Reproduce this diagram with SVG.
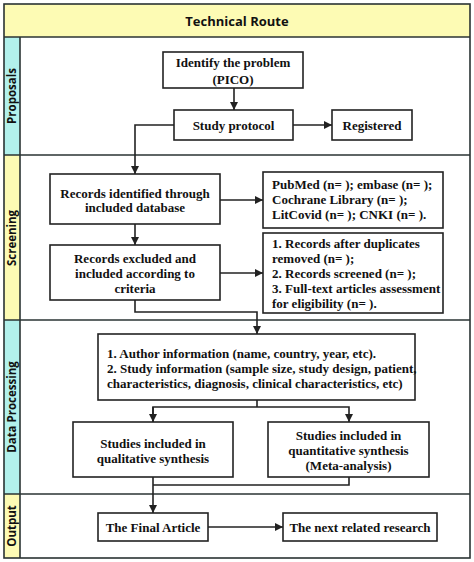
<svg xmlns="http://www.w3.org/2000/svg" width="474" height="562" viewBox="0 0 474 562">
<defs>
<marker id="ah" viewBox="0 0 10 10" refX="10" refY="5" markerWidth="9" markerHeight="8" markerUnits="userSpaceOnUse" orient="auto">
<path d="M0,0 L10,5 L0,10 z" fill="#222"/>
</marker>
</defs>
<style>
.lane{fill:none;stroke:#2a3333;stroke-width:1.6}
.yl{fill:#fdfbb4}
.cy{fill:#b2f1ec}
.box{fill:#fff;stroke:#222;stroke-width:1.6}
.t{font-family:"Liberation Serif",serif;font-weight:bold;font-size:13px;fill:#111}
.c{text-anchor:middle}
.lbl{font-family:"Open Sans","DejaVu Sans",sans-serif;font-weight:bold;font-size:11.5px;fill:#111;text-anchor:middle}
.ln{fill:none;stroke:#222;stroke-width:1.6}
</style>
<rect x="0" y="0" width="474" height="562" fill="#fff"/>
<g id="frame">
<rect class="yl" x="4" y="4" width="466" height="33"/>
<rect class="cy" x="4" y="37" width="16" height="118"/>
<rect class="yl" x="4" y="155" width="16" height="165"/>
<rect class="cy" x="4" y="320" width="16" height="174"/>
<rect class="yl" x="4" y="494" width="16" height="64"/>
<rect class="lane" x="4" y="4" width="466" height="554"/>
<line class="lane" x1="4" y1="37" x2="470" y2="37"/>
<line class="lane" x1="20" y1="37" x2="20" y2="558"/>
<line class="lane" x1="4" y1="155" x2="470" y2="155"/>
<line class="lane" x1="4" y1="320" x2="470" y2="320"/>
<line class="lane" x1="4" y1="494" x2="470" y2="494"/>
<text x="237" y="25.5" font-family="Open Sans, DejaVu Sans, sans-serif" font-weight="bold" font-size="13" text-anchor="middle" fill="#111">Technical Route</text>
<text class="lbl" transform="translate(16,96) rotate(-90)">Proposals</text>
<text class="lbl" transform="translate(16,238) rotate(-90)">Screening</text>
<text class="lbl" transform="translate(16,407) rotate(-90)">Data Processing</text>
<text class="lbl" transform="translate(16,526) rotate(-90)">Output</text>
</g>
<g id="connectors">
<line class="ln" x1="234" y1="88" x2="234" y2="110" marker-end="url(#ah)"/>
<line class="ln" x1="293" y1="125" x2="332" y2="125" marker-end="url(#ah)"/>
<polyline class="ln" points="174,125 135,125 135,174" marker-end="url(#ah)"/>
<line class="ln" x1="220" y1="200" x2="263" y2="200" marker-end="url(#ah)"/>
<line class="ln" x1="135" y1="224" x2="135" y2="245" marker-end="url(#ah)"/>
<line class="ln" x1="220" y1="273" x2="263" y2="273" marker-end="url(#ah)"/>
<polyline class="ln" points="135,300 135,312 257,312 257,334" marker-end="url(#ah)"/>
<line class="ln" x1="257" y1="400" x2="257" y2="407"/>
<polyline class="ln" points="153,422 153,407 349,407 349,422" marker-end="url(#ah)"/>
<line class="ln" x1="153" y1="407" x2="153" y2="422" marker-end="url(#ah)"/>
<polyline class="ln" points="349,477 349,485 153,485"/>
<line class="ln" x1="153" y1="477" x2="153" y2="513" marker-end="url(#ah)"/>
<line class="ln" x1="208" y1="527" x2="283" y2="527" marker-end="url(#ah)"/>
</g>
<g id="n-pico">
<rect class="box" x="163" y="52" width="140" height="36"/>
<text class="t c" x="233" y="67">Identify the problem</text>
<text class="t c" x="233" y="84">(PICO)</text>
</g>
<g id="n-protocol">
<rect class="box" x="174" y="110" width="119" height="30"/>
<text class="t c" x="233.5" y="129.5">Study protocol</text>
</g>
<g id="n-registered">
<rect class="box" x="332" y="110" width="80" height="30"/>
<text class="t c" x="372" y="129.5">Registered</text>
</g>
<g id="n-identified">
<rect class="box" x="50" y="174" width="170" height="50"/>
<text class="t c" x="135" y="197.5">Records identified through</text>
<text class="t c" x="135" y="211.5">included database</text>
</g>
<g id="n-databases">
<rect class="box" x="263" y="172" width="180" height="56"/>
<text class="t" x="272" y="188.5">PubMed (n= ); embase (n= );</text>
<text class="t" x="272" y="204">Cochrane Library (n= );</text>
<text class="t" x="272" y="218.5">LitCovid (n= ); CNKI (n= ).</text>
</g>
<g id="n-excluded">
<rect class="box" x="50" y="245" width="170" height="55"/>
<text class="t c" x="135" y="262.5">Records excluded and</text>
<text class="t c" x="135" y="277.5">included according to</text>
<text class="t c" x="135" y="292.5">criteria</text>
</g>
<g id="n-counts">
<rect class="box" x="263" y="233" width="180" height="80"/>
<text class="t" x="272" y="247.5">1. Records after duplicates</text>
<text class="t" x="272" y="262.5">removed (n= );</text>
<text class="t" x="272" y="277.5">2. Records screened (n= );</text>
<text class="t" x="272" y="292.5">3. Full-text articles assessment</text>
<text class="t" x="272" y="308">for eligibility (n= ).</text>
</g>
<g id="n-info">
<rect class="box" x="98" y="334" width="317" height="66"/>
<text class="t" x="107" y="357.5">1. Author information (name, country, year, etc).</text>
<text class="t" x="107" y="372.5">2. Study information (sample size, study design, patient,</text>
<text class="t" x="107" y="387.5">characteristics, diagnosis, clinical characteristics, etc)</text>
</g>
<g id="n-qualitative">
<rect class="box" x="73" y="422" width="160" height="55"/>
<text class="t c" x="153" y="447.5">Studies included in</text>
<text class="t c" x="153" y="462.5">qualitative synthesis</text>
</g>
<g id="n-quantitative">
<rect class="box" x="268" y="422" width="161" height="55"/>
<text class="t c" x="348.5" y="439.5">Studies included in</text>
<text class="t c" x="348.5" y="454.5">quantitative synthesis</text>
<text class="t c" x="348.5" y="469.5">(Meta-analysis)</text>
</g>
<g id="n-final">
<rect class="box" x="98" y="513" width="110" height="28"/>
<text class="t c" x="153" y="531.5">The Final Article</text>
</g>
<g id="n-next">
<rect class="box" x="283" y="513" width="154" height="28"/>
<text class="t c" x="360" y="531.5">The next related research</text>
</g>
</svg>
